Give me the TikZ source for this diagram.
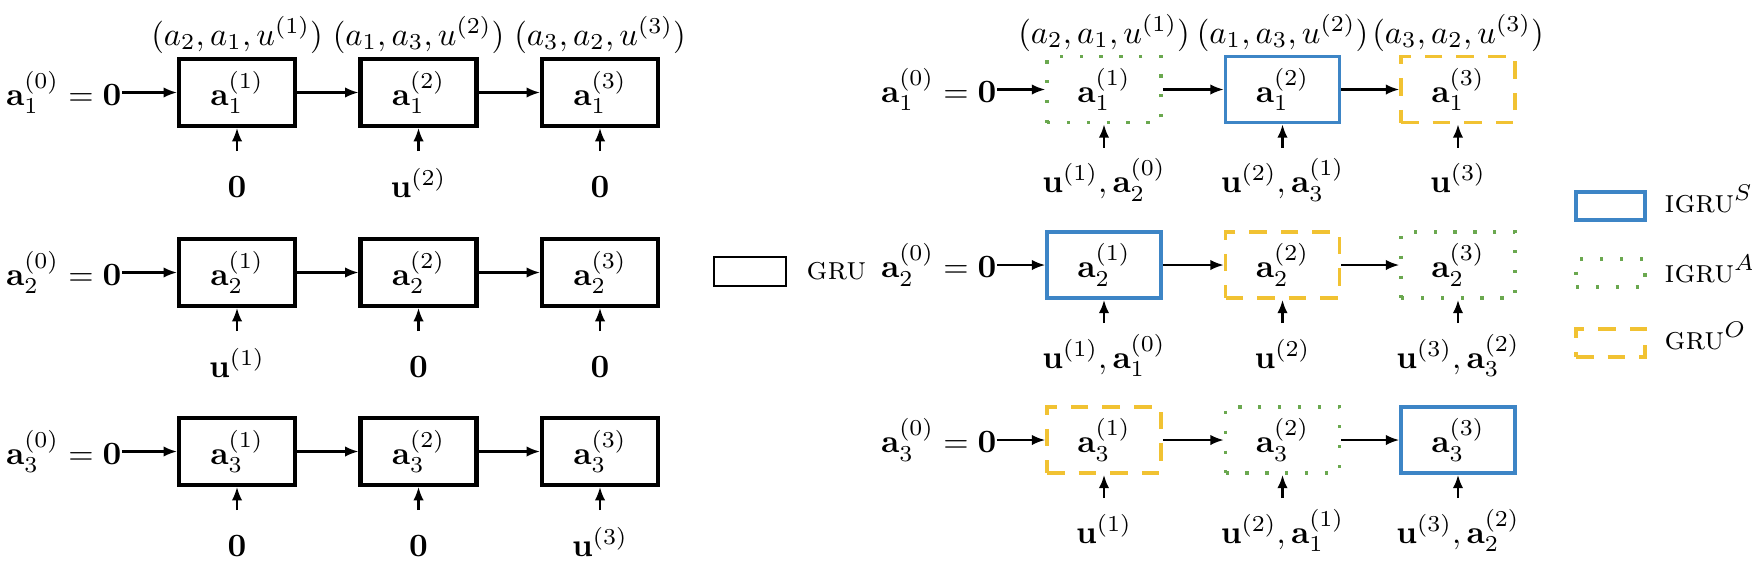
\documentclass[tikz,border=0pt]{standalone}
\usetikzlibrary{arrows.meta}
\definecolor{cblue}{RGB}{61,133,198}
\definecolor{cgreen}{RGB}{106,168,79}
\definecolor{cyellow}{RGB}{241,194,50}
\begin{document}
\begin{tikzpicture}[x=0.3072pt,y=-0.3072pt,
  lbox/.style={draw,line width=1.3pt,minimum width=35.6pt,minimum height=20.5pt,inner sep=0pt},
  rbase/.style={line width=1.13pt,minimum width=35pt,minimum height=20.3pt,inner sep=0pt},
  sbox/.style={rbase,draw=cblue},
  abox/.style={rbase,draw=cgreen,dash pattern=on 1pt off 5.1pt},
  obox/.style={rbase,draw=cyellow,dash pattern=on 5.4pt off 4.3pt},
  legsize/.style={minimum width=21.2pt,minimum height=8.6pt},
  arr/.style={-{Latex[length=4.1pt,width=3.2pt]},line width=0.65pt},
  lab/.style={inner sep=0pt,anchor=base},
  rowlab/.style={inner sep=0pt,anchor=base east},
  leglab/.style={inner sep=0pt,anchor=base west}]
\useasboundingbox (0,0) rectangle (1752,564);

% ---------------- left panel ----------------
\node[lab] (Lt1) at (237,45) {$(a_2, a_1, u^{(1)})$};
\node[lab] (Lt2) at (418.5,45) {$(a_1, a_3, u^{(2)})$};
\node[lab] (Lt3) at (600,45) {$(a_3, a_2, u^{(3)})$};

\node[lbox] (L11) at (237,92.5) {$\mathbf{a}_1^{(1)}$};
\node[lbox] (L12) at (418.5,92.5) {$\mathbf{a}_1^{(2)}$};
\node[lbox] (L13) at (600,92.5) {$\mathbf{a}_1^{(3)}$};
\node[lbox] (L21) at (237,272.5) {$\mathbf{a}_2^{(1)}$};
\node[lbox] (L22) at (418.5,272.5) {$\mathbf{a}_2^{(2)}$};
\node[lbox] (L23) at (600,272.5) {$\mathbf{a}_2^{(3)}$};
\node[lbox] (L31) at (237,451.5) {$\mathbf{a}_3^{(1)}$};
\node[lbox] (L32) at (418.5,451.5) {$\mathbf{a}_3^{(2)}$};
\node[lbox] (L33) at (600,451.5) {$\mathbf{a}_3^{(3)}$};

\node[rowlab] (Li1) at (122,105) {$\mathbf{a}_1^{(0)} = \mathbf{0}$};
\node[rowlab] (Li2) at (122,285) {$\mathbf{a}_2^{(0)} = \mathbf{0}$};
\node[rowlab] (Li3) at (122,464) {$\mathbf{a}_3^{(0)} = \mathbf{0}$};

\node[lab] (Lb11) at (237,197.5) {$\mathbf{0}$};
\node[lab] (Lb12) at (418.5,197.5) {$\mathbf{u}^{(2)}$};
\node[lab] (Lb13) at (600,197.5) {$\mathbf{0}$};
\node[lab] (Lb21) at (237,377.5) {$\mathbf{u}^{(1)}$};
\node[lab] (Lb22) at (418.5,377.5) {$\mathbf{0}$};
\node[lab] (Lb23) at (600,377.5) {$\mathbf{0}$};
\node[lab] (Lb31) at (237,556) {$\mathbf{0}$};
\node[lab] (Lb32) at (418.5,556) {$\mathbf{0}$};
\node[lab] (Lb33) at (600,556) {$\mathbf{u}^{(3)}$};

\foreach \r in {1,2,3}{
  \draw[arr] (Li\r.east |- L\r1.west) -- (L\r1.west);
  \draw[arr] (L\r1.east) -- (L\r2.west);
  \draw[arr] (L\r2.east) -- (L\r3.west);
  \foreach \c in {1,2,3}{
    \draw[arr] ([yshift=-7.1pt]L\r\c.south) -- (L\r\c.south);
  }
}

% ---------------- GRU legend ----------------
\node[draw,line width=0.65pt,minimum width=22.1pt,minimum height=8.9pt,inner sep=0pt] (gL) at (750,271.5) {};
\node[leglab] (gT) at (806,279) {\textsc{gru}};

% ---------------- right panel ----------------
\node[lab] (Rt1) at (1104,43) {$(a_2, a_1, u^{(1)})$};
\node[lab] (Rt2) at (1282.5,43) {$(a_1, a_3, u^{(2)})$};
\node[lab] (Rt3) at (1458,43) {$(a_3, a_2, u^{(3)})$};

\node[abox] (R11) at (1104,89.5) {$\mathbf{a}_1^{(1)}$};
\node[sbox] (R12) at (1282.5,89.5) {$\mathbf{a}_1^{(2)}$};
\node[obox] (R13) at (1458,89.5) {$\mathbf{a}_1^{(3)}$};
\node[sbox] (R21) at (1104,265) {$\mathbf{a}_2^{(1)}$};
\node[obox] (R22) at (1282.5,265) {$\mathbf{a}_2^{(2)}$};
\node[abox] (R23) at (1458,265) {$\mathbf{a}_2^{(3)}$};
\node[obox] (R31) at (1104,440) {$\mathbf{a}_3^{(1)}$};
\node[abox] (R32) at (1282.5,440) {$\mathbf{a}_3^{(2)}$};
\node[sbox] (R33) at (1458,440) {$\mathbf{a}_3^{(3)}$};

\node[rowlab] (Ri1) at (997,102) {$\mathbf{a}_1^{(0)} = \mathbf{0}$};
\node[rowlab] (Ri2) at (997,277.5) {$\mathbf{a}_2^{(0)} = \mathbf{0}$};
\node[rowlab] (Ri3) at (997,452.5) {$\mathbf{a}_3^{(0)} = \mathbf{0}$};

\node[lab] (Rb11) at (1104,192.5) {$\mathbf{u}^{(1)}, \mathbf{a}_2^{(0)}$};
\node[lab] (Rb12) at (1282.5,192.5) {$\mathbf{u}^{(2)}, \mathbf{a}_3^{(1)}$};
\node[lab] (Rb13) at (1458,192.5) {$\mathbf{u}^{(3)}$};
\node[lab] (Rb21) at (1104,368) {$\mathbf{u}^{(1)}, \mathbf{a}_1^{(0)}$};
\node[lab] (Rb22) at (1282.5,368) {$\mathbf{u}^{(2)}$};
\node[lab] (Rb23) at (1458,368) {$\mathbf{u}^{(3)}, \mathbf{a}_3^{(2)}$};
\node[lab] (Rb31) at (1104,543) {$\mathbf{u}^{(1)}$};
\node[lab] (Rb32) at (1282.5,543) {$\mathbf{u}^{(2)}, \mathbf{a}_1^{(1)}$};
\node[lab] (Rb33) at (1458,543) {$\mathbf{u}^{(3)}, \mathbf{a}_2^{(2)}$};

\foreach \r in {1,2,3}{
  \draw[arr] (Ri\r.east |- R\r1.west) -- (R\r1.west);
  \draw[arr] (R\r1.east) -- (R\r2.west);
  \draw[arr] (R\r2.east) -- (R\r3.west);
  \foreach \c in {1,2,3}{
    \draw[arr] ([yshift=-7.1pt]R\r\c.south) -- (R\r\c.south);
  }
}

% ---------------- right legend ----------------
\node[sbox,legsize] (sL) at (1610.5,206) {};
\node[leglab] (sT) at (1664,212) {\textsc{igru}$^S$};
\node[abox,legsize] (aL) at (1610.5,273) {};
\node[leglab] (aT) at (1664,282) {\textsc{igru}$^A$};
\node[obox,legsize] (oL) at (1610.5,343) {};
\node[leglab] (oT) at (1664,349) {\textsc{gru}$^O$};
\end{tikzpicture}
\end{document}
